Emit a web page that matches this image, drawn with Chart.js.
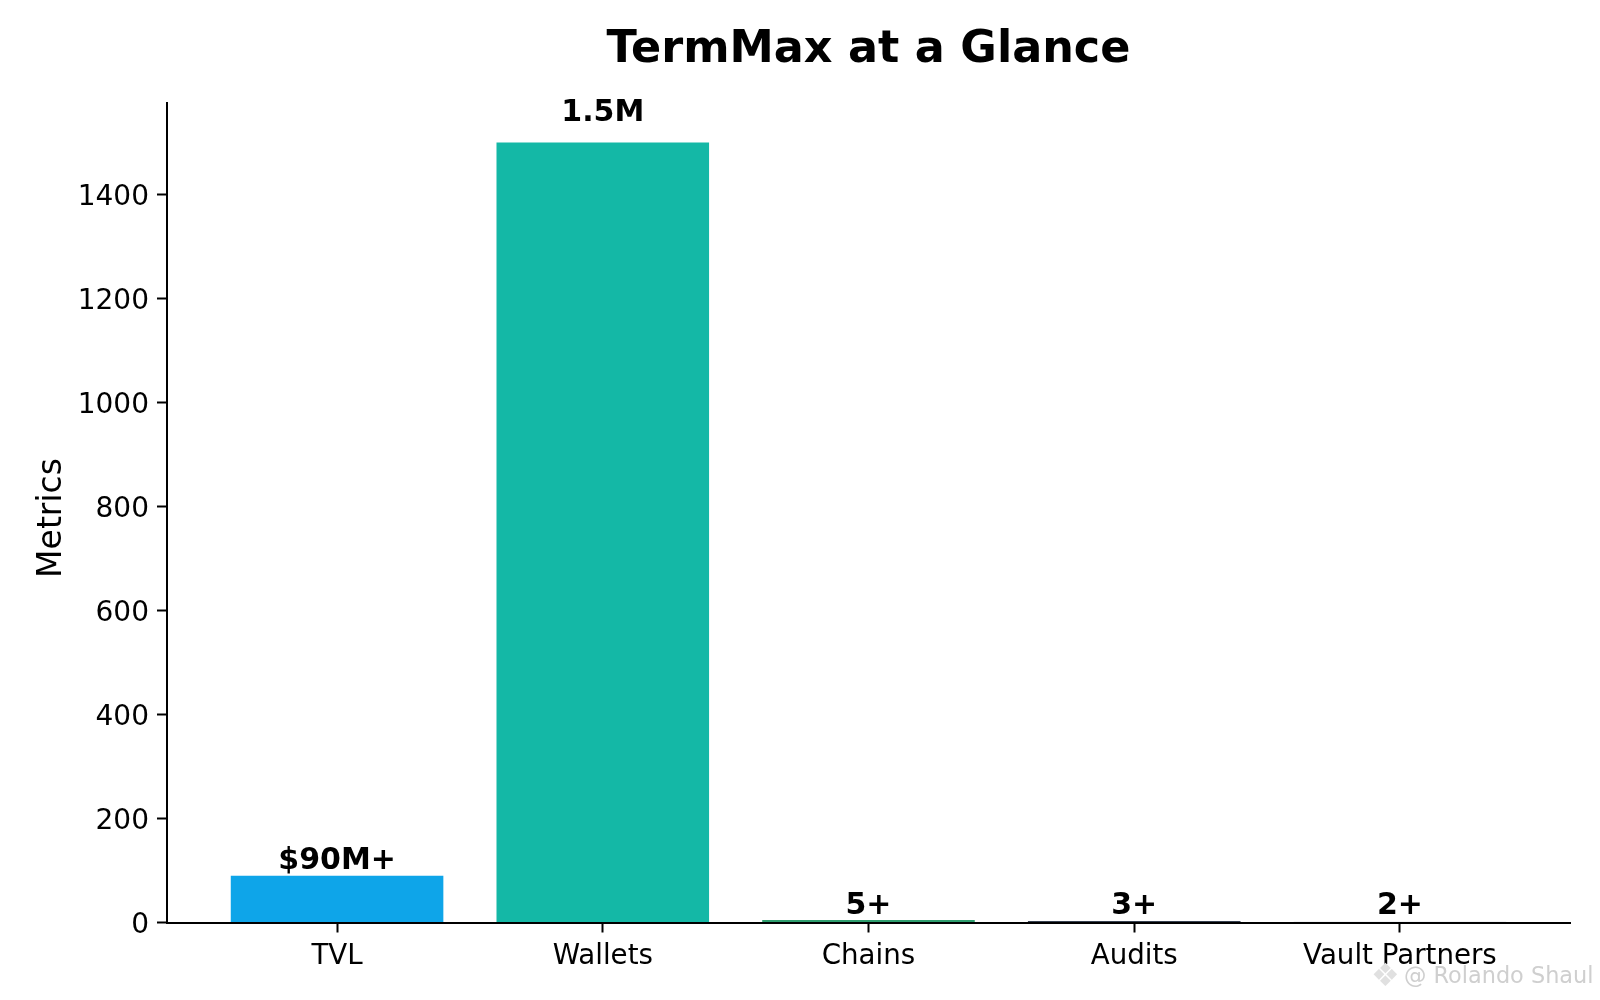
<!DOCTYPE html>
<html>
<head>
<meta charset="utf-8">
<title>TermMax at a Glance</title>
<script src="https://cdn.jsdelivr.net/npm/chart.js@4"></script>
<style>
  html, body { margin: 0; padding: 0; background: #fff; }
  #wrap { position: relative; width: 1600px; height: 1000px; overflow: hidden; }
  .mark {
    position: absolute; white-space: nowrap;
    font-family: "DejaVu Sans", sans-serif; color: #cfcfcf;
  }
  #watermark { left: 1404px; top: 962px; font-size: 22.4px; }
  #watermarkIcon { left: 1371px; top: 956px; font-size: 32px; color: #e0e0e0; }
</style>
</head>
<body>
<div id="wrap">
  <canvas id="chart" width="1600" height="1000"></canvas>
  <div id="watermarkIcon" class="mark">❖</div>
  <div id="watermark" class="mark">@ Rolando Shaul</div>
</div>
<script>
// chart data
const categories = ['TVL', 'Wallets', 'Chains', 'Audits', 'Vault Partners'];
const values = [90, 1500, 5, 3, 2];
const valueLabels = ['$90M+', '1.5M', '5+', '3+', '2+'];
const yTickValues = [0, 200, 400, 600, 800, 1000, 1200, 1400];
// height of each text label's baseline, in axis units
const labelHeights = [102, 1541, 16, 16, 16];
const barColors = ['#0ea5e9', '#14b8a6', '#2e9e6e', '#374151', '#e5e7eb'];

const FONT = '"DejaVu Sans", sans-serif';

// writes the text label above each bar and the y axis title
const barLabels = {
  id: 'barLabels',
  afterDatasetsDraw(chart) {
    const ctx = chart.ctx;
    const meta = chart.getDatasetMeta(0);
    ctx.save();
    ctx.font = 'bold 30px ' + FONT;
    ctx.fillStyle = '#000';
    ctx.textAlign = 'center';
    ctx.textBaseline = 'alphabetic';
    meta.data.forEach((bar, i) => {
      ctx.fillText(valueLabels[i], bar.x, chart.scales.y.getPixelForValue(labelHeights[i]));
    });

    // matplotlib centres this a little below the middle of the axis
    ctx.font = '33px ' + FONT;
    ctx.textBaseline = 'middle';
    ctx.translate(52, 518);
    ctx.rotate(-Math.PI / 2);
    ctx.fillText('Metrics', 0, 0);
    ctx.restore();
  }
};

new Chart(document.getElementById('chart').getContext('2d'), {
  type: 'bar',
  data: {
    datasets: [{
      data: categories.map((c, i) => ({ x: i, y: values[i] })),
      backgroundColor: barColors,
      borderWidth: 0,
      categoryPercentage: 1,
      barPercentage: 0.8
    }]
  },
  options: {
    responsive: false,
    animation: false,
    layout: { padding: { top: 0, right: 30, bottom: 0, left: 0 } },
    plugins: {
      legend: { display: false },
      tooltip: { enabled: false },
      title: {
        display: true,
        fullSize: false,
        text: 'TermMax at a Glance',
        color: '#000',
        font: { family: FONT, size: 44.5, weight: 'bold' },
        padding: { top: 24, bottom: 26 }
      }
    },
    scales: {
      x: {
        type: 'linear',
        offset: false, // bar charts switch this on by default
        min: -0.64,
        max: 4.64,
        afterBuildTicks(scale) { scale.ticks = categories.map((c, i) => ({ value: i })); },
        afterFit(scale) { scale.height = 77.5; },
        grid: { offset: false, drawOnChartArea: false, tickLength: 10, tickColor: '#000', tickWidth: 2 },
        border: { color: '#000', width: 2 },
        ticks: {
          color: '#000',
          font: { family: FONT, size: 27.7 },
          padding: 8,
          autoSkip: false,
          maxRotation: 0,
          callback: value => categories[value]
        }
      },
      y: {
        min: 0,
        max: 1575,
        afterBuildTicks(scale) { scale.ticks = yTickValues.map(v => ({ value: v })); },
        afterFit(scale) { scale.width = 167; },
        grid: { drawOnChartArea: false, tickLength: 10, tickColor: '#000', tickWidth: 2 },
        border: { color: '#000', width: 2 },
        ticks: {
          color: '#000',
          font: { family: FONT, size: 28 },
          padding: 8,
          labelOffset: 3.5,
          autoSkip: false,
          callback: value => String(value)
        }
      }
    }
  },
  plugins: [barLabels]
});
</script>
</body>
</html>
